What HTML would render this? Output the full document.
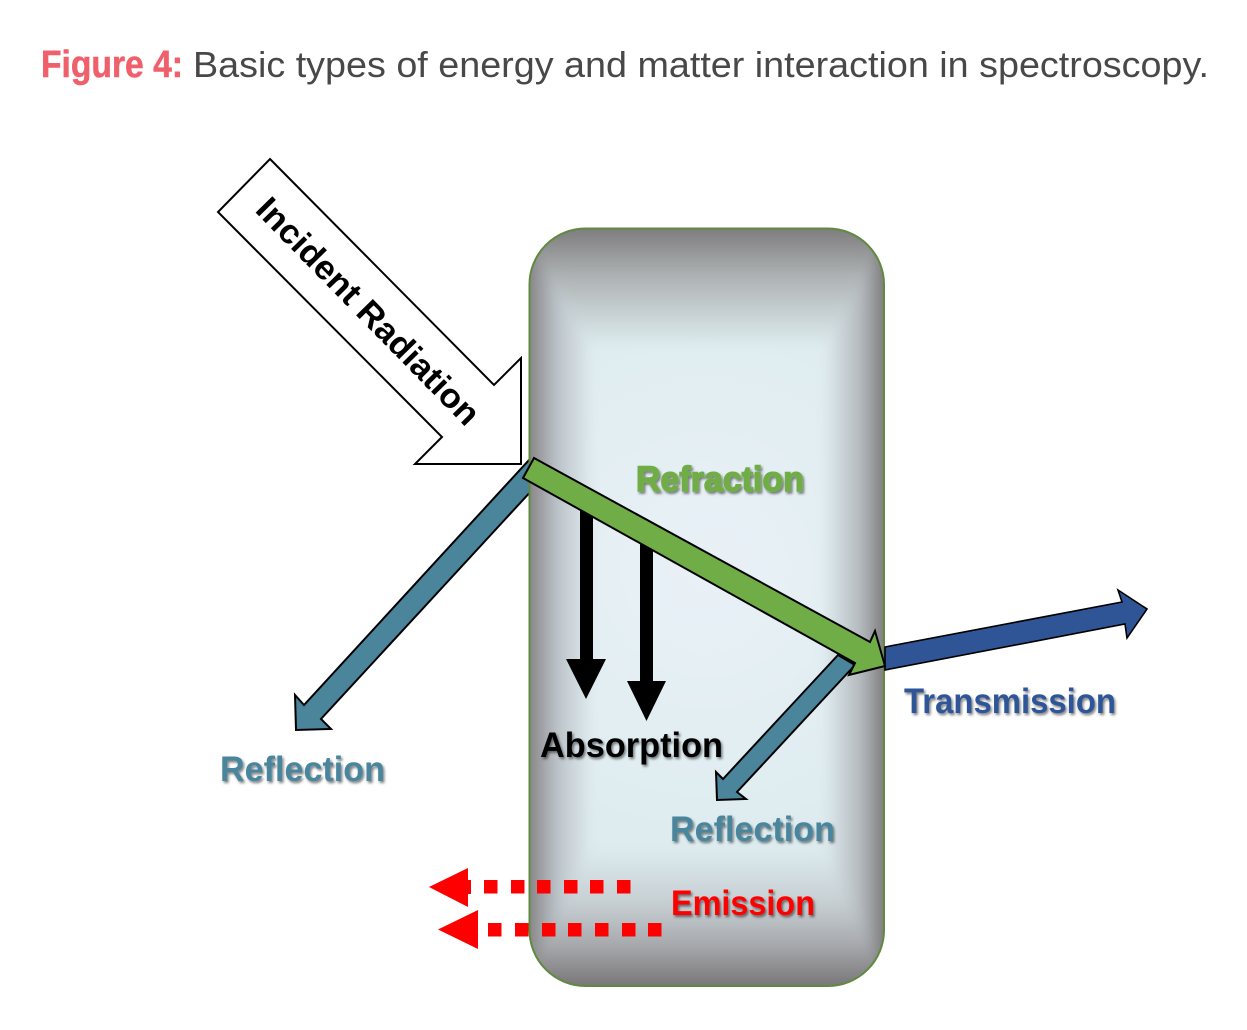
<!DOCTYPE html>
<html>
<head>
<meta charset="utf-8">
<style>
html,body{margin:0;padding:0;background:#fff;}
svg{display:block;}
text{font-family:"Liberation Sans",sans-serif;}
.lbl{font-weight:bold;font-size:35px;}
</style>
</head>
<body>
<svg width="1247" height="1030" viewBox="0 0 1247 1030" xmlns="http://www.w3.org/2000/svg">
<defs>
<clipPath id="box"><rect x="529" y="228" width="355" height="758" rx="56" ry="56"/></clipPath>
<linearGradient id="gt" gradientUnits="userSpaceOnUse" x1="0" y1="228" x2="0" y2="345">
<stop offset="0" stop-color="#7d7b7d"/><stop offset=".4" stop-color="#adb1b2"/><stop offset="1" stop-color="#dcebee"/>
</linearGradient>
<linearGradient id="gb" gradientUnits="userSpaceOnUse" x1="0" y1="986" x2="0" y2="850">
<stop offset="0" stop-color="#777578"/><stop offset=".28" stop-color="#a5a6aa"/><stop offset=".6" stop-color="#c6ced2"/><stop offset="1" stop-color="#dcebee"/>
</linearGradient>
<linearGradient id="gl" gradientUnits="userSpaceOnUse" x1="529" y1="0" x2="592" y2="0">
<stop offset="0" stop-color="#858385"/><stop offset=".45" stop-color="#bcc4ca"/><stop offset="1" stop-color="#dfebef"/>
</linearGradient>
<linearGradient id="gr" gradientUnits="userSpaceOnUse" x1="884" y1="0" x2="825" y2="0">
<stop offset="0" stop-color="#7c797a"/><stop offset=".35" stop-color="#b0b6ba"/><stop offset="1" stop-color="#dfebef"/>
</linearGradient>
<radialGradient id="gc" gradientUnits="userSpaceOnUse" cx="706" cy="570" r="320">
<stop offset="0" stop-color="#e9f1f7"/><stop offset="1" stop-color="#dcebee"/>
</radialGradient>
<filter id="soft" x="-10%" y="-10%" width="120%" height="120%"><feGaussianBlur stdDeviation="6"/></filter>
<filter id="sh" x="-10%" y="-20%" width="120%" height="150%"><feDropShadow dx="1.5" dy="2" stdDeviation="1.4" flood-color="#000" flood-opacity=".5"/></filter>
</defs>

<rect width="1247" height="1030" fill="#fff"/>

<text x="41" y="77" font-size="38" font-weight="bold" fill="#f0606c" stroke="#f0606c" stroke-width=".5" textLength="142" lengthAdjust="spacingAndGlyphs">Figure 4:</text>
<text x="193" y="77" font-size="36" fill="#484848" textLength="1016" lengthAdjust="spacingAndGlyphs">Basic types of energy and matter interaction in spectroscopy.</text>

<!-- left reflection (passes behind the block) -->
<polygon points="540,448 304,705 295,695 296,730 331,729 321,719 545,476" fill="#4a859c" stroke="#000" stroke-width="2"/>

<!-- matter block -->
<g clip-path="url(#box)">
<rect x="529" y="228" width="355" height="758" fill="url(#gc)"/>
<g filter="url(#soft)">
<polygon points="515,208 898,208 825,345 590,345" fill="url(#gt)"/>
<polygon points="515,1006 898,1006 825,850 590,850" fill="url(#gb)"/>
<polygon points="515,208 590,345 590,850 515,1006" fill="url(#gl)"/>
<polygon points="898,208 825,345 825,850 898,1006" fill="url(#gr)"/>
</g>
</g>
<rect x="529.5" y="228.5" width="354.5" height="757.5" rx="56" ry="56" fill="none" stroke="#5f8a3f" stroke-width="2"/>

<!-- incident arrow -->
<polygon points="270,159 494,385 521,358 521,464 415,464 442,437 218,212" fill="#fff" stroke="#000" stroke-width="2"/>
<text x="0" y="0" transform="translate(254,211) rotate(45.6)" font-size="34" font-weight="bold" fill="#000" textLength="303" lengthAdjust="spacingAndGlyphs">Incident Radiation</text>

<!-- absorption arrows -->
<polygon points="580,505 593,505 593,659 606,659 586,699 566,659 580,659" fill="#000"/>
<polygon points="640,540 653,540 653,681 666,681 646.5,721 627,681 640,681" fill="#000"/>

<!-- transmission -->
<polygon points="885,647 1122,602 1118,590 1147,609 1127,638 1125,624 885,670" fill="#2f5597" stroke="#000" stroke-width="1.6"/>

<!-- inner reflection -->
<polygon points="838,655 723,779 716,772 717,800 746,799 737,792 855,665" fill="#4a859c" stroke="#000" stroke-width="2"/>

<!-- refraction -->
<polygon points="534,458 870,642 875,631 885,666 849,675 855,663 523,478" fill="#70ad47" stroke="#000" stroke-width="2"/>

<!-- emission arrows -->
<g fill="#f00">
<polygon points="429,887 468,868 468,880 471,880 471,894 468,894 468,907"/>
<rect x="484" y="880" width="13.5" height="13.5"/>
<rect x="511" y="880" width="13.5" height="13.5"/>
<rect x="537" y="880" width="13.5" height="13.5"/>
<rect x="564" y="880" width="13.5" height="13.5"/>
<rect x="590" y="880" width="13.5" height="13.5"/>
<rect x="617" y="880" width="13.5" height="13.5"/>
<polygon points="438,929.5 478,910 478,949"/>
<rect x="488" y="923" width="13.5" height="13.5"/>
<rect x="515" y="923" width="13.5" height="13.5"/>
<rect x="542" y="923" width="13.5" height="13.5"/>
<rect x="568" y="923" width="13.5" height="13.5"/>
<rect x="595" y="923" width="13.5" height="13.5"/>
<rect x="622" y="923" width="13.5" height="13.5"/>
<rect x="648" y="923" width="13.5" height="13.5"/>
</g>

<!-- labels -->
<g class="lbl" filter="url(#sh)">
<text x="636" y="491" fill="#70ad47" stroke="#70ad47" stroke-width="1.5" textLength="168" lengthAdjust="spacingAndGlyphs">Refraction</text>
<text x="904" y="713" fill="#2f5597" textLength="212" lengthAdjust="spacingAndGlyphs">Transmission</text>
<text x="540" y="757" fill="#000" textLength="183" lengthAdjust="spacingAndGlyphs">Absorption</text>
<text x="220" y="781" fill="#4a859c" textLength="165" lengthAdjust="spacingAndGlyphs">Reflection</text>
<text x="670" y="841" fill="#4a859c" textLength="165" lengthAdjust="spacingAndGlyphs">Reflection</text>
<text x="671" y="915" fill="#f00" textLength="144" lengthAdjust="spacingAndGlyphs">Emission</text>
</g>
</svg>
</body>
</html>
